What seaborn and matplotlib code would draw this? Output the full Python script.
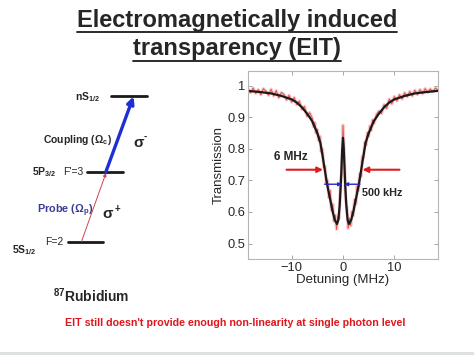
import numpy as np
import pandas as pd
import seaborn as sns
import matplotlib.pyplot as plt

# EIT transmission spectrum
det_fit = [-18.5, -16, -14, -12, -10, -9, -8, -7, -6, -5, -4.4, -4, -3.58, -3.1, -2.5, -2,
           -1.6, -1.17, -0.9, -0.65, -0.45, -0.3, -0.15, 0,
           0.15, 0.3, 0.45, 0.65, 0.9, 1.17, 1.6,
           2, 2.5, 3.1, 3.58, 4, 4.4, 5, 6, 7, 8, 9, 10, 12, 14, 16, 18.5]
trans_fit = [0.984, 0.980, 0.976, 0.968, 0.957, 0.947, 0.932, 0.912, 0.888, 0.850, 0.819, 0.780, 0.737, 0.688, 0.640, 0.600,
             0.575, 0.562, 0.575, 0.620, 0.680, 0.740, 0.800, 0.835,
             0.800, 0.740, 0.680, 0.620, 0.575, 0.562, 0.575,
             0.600, 0.640, 0.688, 0.737, 0.780, 0.819, 0.850, 0.888, 0.912, 0.932, 0.947, 0.957, 0.968, 0.976, 0.980, 0.984]

det_meas = [-18.5, -18, -17.5, -17, -16.5, -16, -15.5, -15, -14.5, -14, -13.5, -13, -12.5, -12, -11.5, -11,
            -10.5, -10, -9.5, -9, -8.5, -8, -7.5, -7, -6.5,
            -6, -5.75, -5.5, -5.25, -5, -4.75, -4.5, -4.25, -4, -3.75, -3.5, -3.25, -3, -2.75, -2.5, -2.25,
            -2, -1.75, -1.5, -1.25, -1, -0.75, -0.5, -0.25, 0,
            0.25, 0.5, 0.75, 1, 1.25, 1.5, 1.75, 2, 2.25, 2.5, 2.75, 3, 3.25, 3.5, 3.75, 4, 4.25, 4.5,
            4.75, 5, 5.25, 5.5, 5.75, 6,
            6.5, 7, 7.5, 8, 8.5, 9, 9.5, 10, 10.5, 11, 11.5, 12, 12.5, 13, 13.5, 14, 14.5, 15, 15.5,
            16, 16.5, 17, 17.5, 18, 18.5]
trans_meas = [0.990, 0.978, 0.993, 0.976, 0.988, 0.972, 0.991, 0.983, 0.970, 0.989, 0.968, 0.985, 0.962, 0.979, 0.973, 0.955,
              0.970, 0.948, 0.963, 0.940, 0.952, 0.925, 0.935, 0.903, 0.915,
              0.898, 0.870, 0.884, 0.850, 0.862, 0.826, 0.840, 0.790, 0.800, 0.742, 0.745, 0.690, 0.700, 0.645, 0.668, 0.605,
              0.625, 0.570, 0.590, 0.545, 0.585, 0.580, 0.690, 0.720, 0.875,
              0.780, 0.640, 0.615, 0.548, 0.580, 0.556, 0.602, 0.588, 0.640, 0.625, 0.682, 0.668, 0.722, 0.712, 0.776, 0.772, 0.822, 0.812,
              0.852, 0.840, 0.873, 0.858, 0.892, 0.880,
              0.908, 0.920, 0.912, 0.940, 0.928, 0.958, 0.943, 0.966, 0.952, 0.972, 0.958, 0.978, 0.965, 0.982, 0.968, 0.986, 0.972, 0.988, 0.975,
              0.991, 0.979, 0.990, 0.981, 0.993, 0.986]

xticks = [-10, 0, 10]
yticks = [0.5, 0.6, 0.7, 0.8, 0.9, 1.0]
ytick_labels = ['0.5', '0.6', '0.7', '0.8', '0.9', '1']

sns.set_theme(style="white")
plt.rcParams['font.family'] = ['Liberation Sans', 'DejaVu Sans']
plt.rcParams['mathtext.fontset'] = 'custom'
plt.rcParams['mathtext.rm'] = 'Liberation Sans'
plt.rcParams['mathtext.bf'] = 'Liberation Sans:bold'
plt.rcParams['mathtext.it'] = 'Liberation Sans:italic'

fig = plt.figure(figsize=(4.74, 3.55), dpi=100)

# overlay in pixel coords for the slide parts
ov = fig.add_axes([0, 0, 1, 1])
ov.set_xlim(0, 474)
ov.set_ylim(355, 0)
ov.axis('off')

ov.text(237, 20, "Electromagnetically induced", ha='center', va='center', fontsize=17, fontweight='bold')
ov.text(237, 48, "transparency (EIT)", ha='center', va='center', fontsize=17, fontweight='bold')
ov.plot([77, 397], [32, 32], color='k', lw=1.3)
ov.plot([133, 341], [60.5, 60.5], color='k', lw=1.3)

# energy levels
ov.plot([111, 147], [96, 96], color='k', lw=2)
ov.plot([87, 123], [172, 172], color='k', lw=2)
ov.plot([68, 103], [242, 242], color='k', lw=2)
ov.annotate("", xy=(133.5, 96.5), xytext=(106, 171.5),
            arrowprops=dict(arrowstyle='-|>', color='#1f2fd8', lw=2.4, mutation_scale=10, shrinkA=0, shrinkB=0))
ov.annotate("", xy=(106, 173), xytext=(81.5, 241.5),
            arrowprops=dict(arrowstyle='-|>', color='#d0454a', lw=0.7, mutation_scale=5, shrinkA=0, shrinkB=0))

ov.text(100, 97, r"nS$_{\mathbf{1/2}}$", ha='right', va='center', fontsize=7.5, fontweight='bold')
ov.text(32, 172, r"5P$_{\mathbf{3/2}}$", ha='left', va='center', fontsize=7.5, fontweight='bold')
ov.text(63, 172, "F'=3", ha='left', va='center', fontsize=7.5)
ov.text(45, 242, "F=2", ha='left', va='center', fontsize=7.5)
ov.text(12, 250, r"5S$_{\mathbf{1/2}}$", ha='left', va='center', fontsize=7.5, fontweight='bold')
ov.text(43, 140, r"Coupling (Ω$_{\mathbf{c}}$)", ha='left', va='center', fontsize=7.5, fontweight='bold')
ov.text(37, 211, r"Probe (Ω$_{\mathbf{p}}$)", ha='left', va='center', fontsize=7.8, fontweight='bold', color='#3b3b98')
ov.text(133, 143, "σ", ha='left', va='center', fontsize=11, fontweight='bold')
ov.text(144, 137, "-", ha='left', va='center', fontsize=7, fontweight='bold')
ov.text(102, 214, "σ", ha='left', va='center', fontsize=11, fontweight='bold')
ov.text(115, 209, "+", ha='left', va='center', fontsize=7, fontweight='bold')
ov.text(53, 296, r"$^{\mathbf{87}}$Rubidium", ha='left', va='center', fontsize=10, fontweight='bold')

ov.text(235, 323, "EIT still doesn't provide enough non-linearity at single photon level",
        ha='center', va='center', fontsize=7.7, fontweight='bold', color='#e0161c')
ov.axhspan(352, 355, color='#dde1e1', lw=0)

# spectrum panel
ax = fig.add_axes([248 / 474, 1 - 259.3 / 355, 190 / 474, 188.3 / 355])
df_meas = pd.DataFrame({'det': det_meas, 'T': trans_meas})
df_fit = pd.DataFrame({'det': det_fit, 'T': trans_fit})
sns.lineplot(data=df_meas, x='det', y='T', ax=ax, color='#f08a8a', lw=2.4, alpha=0.45)
sns.lineplot(data=df_meas, x='det', y='T', ax=ax, color='#e23a3a', lw=0.7, alpha=0.85)
sns.lineplot(data=df_fit, x='det', y='T', ax=ax, color='k', lw=1.6)

ax.set_xlim(-18.5, 18.5)
ax.set_ylim(0.45, 1.047)
ax.set_xticks(xticks)
ax.set_yticks(yticks)
ax.set_yticklabels(ytick_labels)
ax.set_xlabel("Detuning (MHz)", fontsize=9.5, labelpad=0)
ax.set_ylabel("Transmission", fontsize=9.5, labelpad=2)
ax.tick_params(direction='in', length=3, width=0.6, color='#999999', labelsize=9.3,
               top=True, right=True, bottom=True, left=True, pad=2)
for s in ax.spines.values():
    s.set_color('#b5b5b5')
    s.set_linewidth(0.8)

# annotations
ax.annotate("", xy=(-3.9, 0.734), xytext=(-11.0, 0.734),
            arrowprops=dict(arrowstyle='-|>', color='#dd1c1c', lw=1.5, mutation_scale=8, shrinkA=0, shrinkB=0))
ax.annotate("", xy=(3.8, 0.734), xytext=(11.0, 0.734),
            arrowprops=dict(arrowstyle='-|>', color='#dd1c1c', lw=1.5, mutation_scale=8, shrinkA=0, shrinkB=0))
ax.annotate("", xy=(-0.2, 0.688), xytext=(-3.6, 0.688),
            arrowprops=dict(arrowstyle='-|>', color='#2828c8', lw=1.0, mutation_scale=5, shrinkA=0, shrinkB=0))
ax.annotate("", xy=(0.25, 0.688), xytext=(3.3, 0.688),
            arrowprops=dict(arrowstyle='-|>', color='#2828c8', lw=1.0, mutation_scale=5, shrinkA=0, shrinkB=0))
ax.text(-10.1, 0.774, "6 MHz", ha='center', va='center', fontsize=8.5, fontweight='bold')
ax.text(7.7, 0.66, "500 kHz", ha='center', va='center', fontsize=7.8, fontweight='bold')

fig.savefig("out.png", dpi=100)
